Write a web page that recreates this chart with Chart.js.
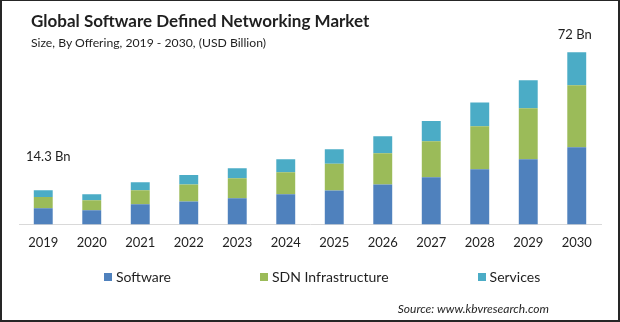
<!DOCTYPE html>
<html>
<head>
<meta charset="utf-8">
<script src="https://cdn.jsdelivr.net/npm/chart.js@4"></script>
<style>
  html, body { margin: 0; padding: 0; background: #fff; }
  .wrap { position: relative; width: 620px; height: 322px; font-family: Lato, sans-serif; color: #1f1f1f; overflow: hidden; }
  .wrap canvas { position: absolute; left: 0; top: 0; }
  .frame { position: absolute; inset: 0; border: 2px solid #262626; border-top-width: 1px; pointer-events: none; }
  .title { position: absolute; left: 31px; top: 11px; font-size: 17px; font-weight: 700; line-height: 20px; white-space: nowrap; }
  .subtitle { position: absolute; left: 31px; top: 35px; font-size: 12.2px; line-height: 16px; white-space: nowrap; }
  .legend { position: absolute; left: 104px; top: 268px; display: flex; gap: 89px; font-size: 14px; line-height: 18px; white-space: nowrap; }
  .legend .item { display: flex; align-items: center; }
  .legend .box { display: inline-block; width: 8px; height: 8px; margin-right: 4px; }
  .source { position: absolute; right: 71px; top: 301px; font-size: 12px; font-style: italic; line-height: 16px; white-space: nowrap; }
</style>
</head>
<body>
<div class="wrap">
  <canvas id="sdnChart" width="620" height="322"></canvas>
  <div class="title">Global Software Defined Networking Market</div>
  <div class="subtitle">Size, By Offering, 2019 - 2030, (USD Billion)</div>
  <div class="legend" id="legend"></div>
  <div class="source">Source: www.kbvresearch.com</div>
  <div class="frame"></div>
</div>
<script>
const years = ['2019', '2020', '2021', '2022', '2023', '2024', '2025', '2026', '2027', '2028', '2029', '2030'];
const software = [6.7, 5.9, 8.4, 9.6, 10.9, 12.6, 14.2, 16.7, 19.7, 23.0, 27.2, 32.2];
const sdnInfrastructure = [4.8, 4.2, 5.9, 7.1, 8.4, 9.2, 11.2, 13.0, 15.1, 18.0, 21.3, 26.0];
const services = [2.8, 2.5, 3.3, 3.9, 4.2, 5.4, 6.0, 7.1, 8.4, 10.0, 11.7, 13.8];
const labelledYears = ['2019', '2030'];

const yearTotal = (i) => software[i] + sdnInfrastructure[i] + services[i];

// writes "<total> Bn" above the first and last stacks
const totalLabels = {
  id: 'totalLabels',
  afterDatasetsDraw(chart, args, opts) {
    const { ctx, scales: { x, y } } = chart;
    ctx.save();
    ctx.font = opts.font;
    ctx.fillStyle = opts.color;
    ctx.textAlign = 'center';
    ctx.textBaseline = 'middle';
    labelledYears.forEach((year, n) => {
      const i = years.indexOf(year);
      const total = yearTotal(i);
      const shift = opts.shifts[n];
      ctx.fillText(`${+total.toFixed(1)} Bn`, x.getPixelForValue(i) + shift.dx, y.getPixelForValue(total) - shift.lift);
    });
    ctx.restore();
  },
};

const chart = new Chart(document.getElementById('sdnChart'), {
  type: 'bar',
  data: {
    labels: years,
    datasets: [
      { label: 'Software', data: software, backgroundColor: '#4f81bd' },
      { label: 'SDN Infrastructure', data: sdnInfrastructure, backgroundColor: '#9bbb59' },
      { label: 'Services', data: services, backgroundColor: '#4bacc6' },
    ],
  },
  options: {
    responsive: false,
    devicePixelRatio: 1,
    animation: false,
    datasets: {
      bar: { barPercentage: 0.39, categoryPercentage: 1 },
    },
    layout: { padding: { left: 19, right: 19, top: 33, bottom: 60 } },
    plugins: {
      legend: { display: false },
      tooltip: { enabled: false },
      totalLabels: {
        font: '13px Lato, sans-serif',
        color: '#1f1f1f',
        shifts: [{ dx: 5, lift: 33 }, { dx: -2, lift: 17 }],
      },
    },
    scales: {
      x: {
        stacked: true,
        grid: { display: false, drawTicks: false },
        border: { color: '#d9d9d9', width: 1 },
        ticks: { color: '#1f1f1f', font: { family: 'Lato', size: 13 }, padding: 11 },
      },
      y: {
        stacked: true,
        display: false,
        min: 0,
        max: 80,
      },
    },
  },
  plugins: [totalLabels],
});

// legend row built from the datasets
const legendEl = document.getElementById('legend');
chart.data.datasets.forEach((ds) => {
  const item = document.createElement('div');
  item.className = 'item';
  const box = document.createElement('span');
  box.className = 'box';
  box.style.background = ds.backgroundColor;
  item.appendChild(box);
  item.appendChild(document.createTextNode(ds.label));
  legendEl.appendChild(item);
});
</script>
</body>
</html>
